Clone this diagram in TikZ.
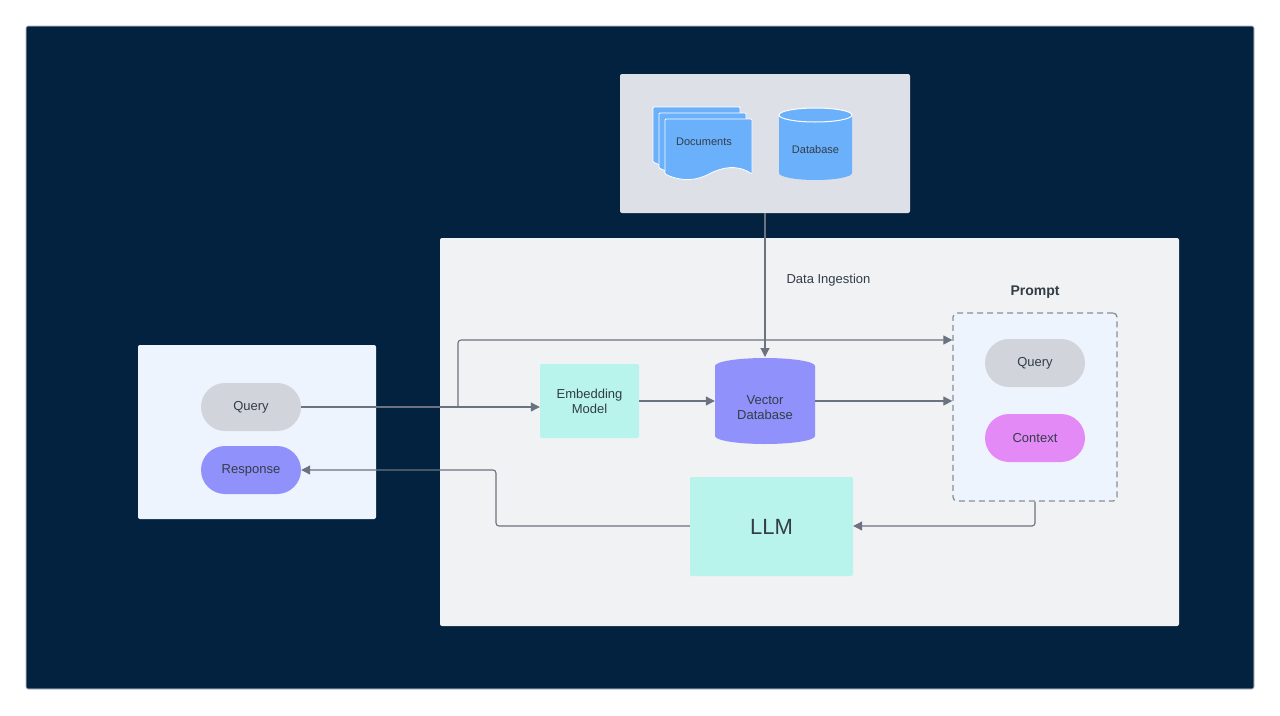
\documentclass[tikz,border=0pt]{standalone}
\usepackage{fontspec}
\setmainfont{Liberation Sans}
\usetikzlibrary{arrows.meta}
\definecolor{navy}{HTML}{03223F}
\definecolor{topbox}{HTML}{DDE1E7}
\definecolor{mainbox}{HTML}{F0F2F4}
\definecolor{lightblue}{HTML}{EEF4FD}
\definecolor{pillgray}{HTML}{D1D5DB}
\definecolor{violet}{HTML}{9191FB}
\definecolor{mint}{HTML}{B8F3EC}
\definecolor{pink}{HTML}{E38AF7}
\definecolor{docblue}{HTML}{6BB0FB}
\definecolor{linegray}{HTML}{6B7280}
\definecolor{txt}{HTML}{333D47}
\begin{document}
\begin{tikzpicture}[x=1pt,y=-1pt,
  panel/.style={rounded corners=2pt,draw=none},
  pill/.style={rounded corners=24pt,minimum width=100pt,minimum height=48pt,inner sep=0pt,text=txt,font=\fontsize{13}{15}\selectfont},
  mbox/.style={rounded corners=2pt,fill=mint,inner sep=0pt,text=txt,align=center,font=\fontsize{13}{15}\selectfont},
  conn/.style={draw=linegray,line width=1.1pt,-{Triangle[length=9pt,width=9pt]},rounded corners=3pt},
  lbl/.style={text=txt,font=\fontsize{13}{15}\selectfont}]
\useasboundingbox (0,0) rectangle (1280,715);
\fill[white] (0,0) rectangle (1280,715);
\draw[navy,fill=navy,rounded corners=2pt] (26,26) rectangle (1254,689);
\draw[draw=pillgray!60,rounded corners=2pt,line width=0.6pt] (26,26) rectangle (1254,689);
% panels
\node[panel,fill=topbox,minimum width=290pt,minimum height=139pt,inner sep=0pt] (top) at (765,143.5) {};
\fill[mainbox,rounded corners=2pt] (440,238) rectangle (1179,626);
\node[panel,fill=lightblue,minimum width=238pt,minimum height=174pt,inner sep=0pt] (left) at (257,432) {};
% documents
\foreach \dx/\dy in {0/0,6/6,12/12}{
  \fill[docblue,draw=white,line width=0.8pt,rounded corners=1pt] (653+\dx,107+\dy) -- (740+\dx,107+\dy) -- (740+\dx,162+\dy)
     .. controls (725+\dx,152+\dy) and (710+\dx,155+\dy) .. (695+\dx,163+\dy)
     .. controls (680+\dx,170+\dy) and (665+\dx,168+\dy) .. (653+\dx,162+\dy) -- cycle;
}
\node[font=\fontsize{11}{13}\selectfont,text=txt] (docs) at (704,142) {Documents};
% database
\fill[docblue] (779,115) -- (779,173) arc[start angle=180,end angle=360,x radius=36.5pt,y radius=7pt] -- (852,115) -- cycle;
\fill[docblue,draw=white,line width=1pt] (815.5,115) ellipse[x radius=36.5pt,y radius=7pt];
\node[font=\fontsize{11}{13}\selectfont,text=txt] (db) at (815.5,150) {Database};
% left pills
\node[pill,fill=pillgray] (q) at (251,407) {Query};
\node[pill,fill=violet] (resp) at (251,470) {Response};
% embedding
\node[mbox,minimum width=99pt,minimum height=74pt] (emb) at (589.5,401) {Embedding\\Model};
% vector db
\fill[violet] (715,366) -- (715,436) arc[start angle=180,end angle=360,x radius=50pt,y radius=8pt] -- (815,366) arc[start angle=0,end angle=180,x radius=50pt,y radius=8pt] -- cycle;
\node[inner sep=0pt,minimum width=100pt,minimum height=86pt] (vdb) at (765,401) {};
\node[lbl,align=center] at (765,408) {Vector\\Database};
% prompt
\node[font=\bfseries\fontsize{14}{16}\selectfont,text=txt] at (1035,292) {Prompt};
\node[draw=linegray!80,dashed,line width=1.3pt,dash pattern=on 6pt off 4pt,fill=lightblue,rounded corners=4pt,minimum width=164pt,minimum height=188pt,inner sep=0pt] (prompt) at (1035,407) {};
\node[pill,fill=pillgray] (pq) at (1035,363) {Query};
\node[pill,fill=pink] (ctx) at (1035,438) {Context};
% LLM
\node[mbox,minimum width=163pt,minimum height=99pt,font=\fontsize{22}{26}\selectfont] (llm) at (771.5,526.5) {LLM};
\node[lbl,anchor=west] at (783,280) {Data Ingestion};
% connectors
\draw[conn] (q.east) -- (emb.west |- q.east);
\draw[conn] (458,407) -- (458,340) -- (prompt.west |- 0,340);
\draw[conn] (emb.east) -- (vdb.west |- emb.east);
\draw[conn] (vdb.east) -- (prompt.west |- vdb.east);
\draw[conn] (top.south) -- (765,357);
\draw[conn] (prompt.south) -- (1035,526) -- (llm.east |- 0,526);
\draw[conn] (llm.west |- 0,526) -- (496,526) -- (496,470) -- (resp.east);
\end{tikzpicture}
\end{document}
